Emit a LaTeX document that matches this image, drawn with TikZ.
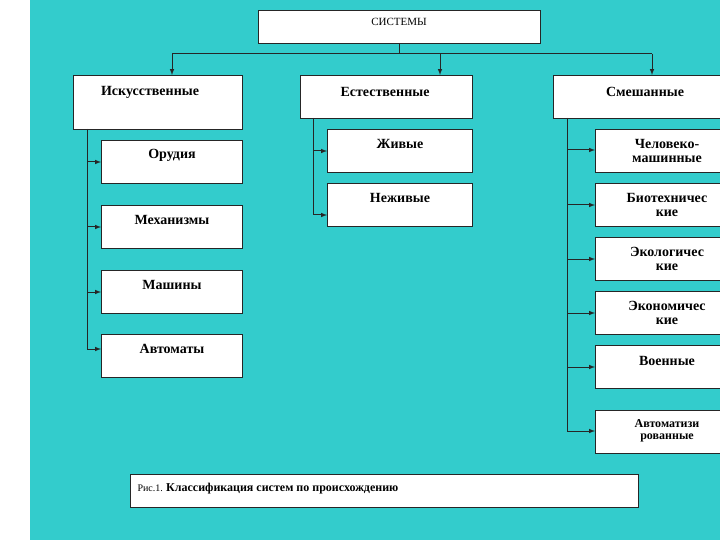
\documentclass[tikz,border=0pt]{standalone}
\usepackage{fontspec}
\setmainfont{Liberation Serif}
\begin{document}
\begin{tikzpicture}[x=1pt,y=-1pt,
  bx/.style={draw=black!85,fill=white,line width=0.8pt},
  lab/.style={font=\bfseries\fontsize{14}{14}\selectfont,align=center},
  sm/.style={font=\bfseries\fontsize{12}{12}\selectfont,align=center},
  ln/.style={draw=black!85,line width=1pt},
  ar/.style={ln,-latex}]
\useasboundingbox (0,0) rectangle (720,540);
\fill[white] (0,0) rectangle (720,540);
\fill[cyan!60!teal!75!white, fill={rgb,255:red,51;green,204;blue,204}] (30,0) rectangle (720,540);
% top
\draw[bx] (258,10) rectangle (540,43);
\node[font=\fontsize{11}{11}\selectfont] (sys) at (399,22) {СИСТЕМЫ};
\coordinate (s0) at (399,43);
\coordinate (s1) at (399,54);
\coordinate (ha) at (172,54);
\coordinate (hb) at (440,54);
\coordinate (hc) at (652,54);
\draw[ln] (s0)--(s1) (ha)--(hc);
% level 1
\draw[bx] (73,75) rectangle (242,129);
\node[lab] (isk) at (150,92) {Искусственные};
\draw[bx] (300,75) rectangle (472,118);
\node[lab] (est) at (385,92) {Естественные};
\draw[bx] (553,75) rectangle (735,118);
\node[lab] (sme) at (645,92) {Смешанные};
\coordinate (ta) at (172,75); \coordinate (tb) at (440,75); \coordinate (tc) at (652,75);
\draw[ar] (ha)--(ta); \draw[ar] (hb)--(tb); \draw[ar] (hc)--(tc);
% left children
\foreach \y/\t/\ay in {140/Орудия/162, 205/Механизмы/227, 270/Машины/292, 334/Автоматы/349}{
  \draw[bx] (101,\y) rectangle (242,\y+43);
  \node[lab] at (172,\y+15) {\t};
  \draw[ar] (87,\ay)--(101,\ay);
}
\draw[ln] (87,129)--(87,349);
% middle children
\foreach \y/\t/\ay in {129/Живые/151, 183/Неживые/215}{
  \draw[bx] (327,\y) rectangle (472,\y+43);
  \node[lab] at (400,\y+15) {\t};
  \draw[ar] (313,\ay)--(327,\ay);
}
\draw[ln] (313,118)--(313,215);
% right children
\foreach \y/\t/\ay in {129/{Человеко-\\машинные}/150, 183/{Биотехничес\\кие}/205, 237/{Экологичес\\кие}/259, 291/{Экономичес\\кие}/313}{
  \draw[bx] (595,\y) rectangle (735,\y+43);
  \node[lab] at (667,\y+22) {\t};
  \draw[ar] (567,\ay)--(595,\ay);
}
\draw[bx] (595,345) rectangle (735,388);
\node[lab] at (667,361) {Военные};
\draw[ar] (567,367)--(595,367);
\draw[bx] (595,410) rectangle (735,453);
\node[sm] at (667,431) {Автоматизи\\рованные};
\draw[ar] (567,431)--(595,431);
\draw[ln] (567,118)--(567,431);
% caption
\draw[bx] (130,474) rectangle (638,507);
\node[anchor=west] (cap) at (134,489) {{\fontsize{10}{10}\selectfont Рис.1.} {\bfseries\fontsize{12}{12}\selectfont Классификация систем по происхождению}};
\end{tikzpicture}
\end{document}
